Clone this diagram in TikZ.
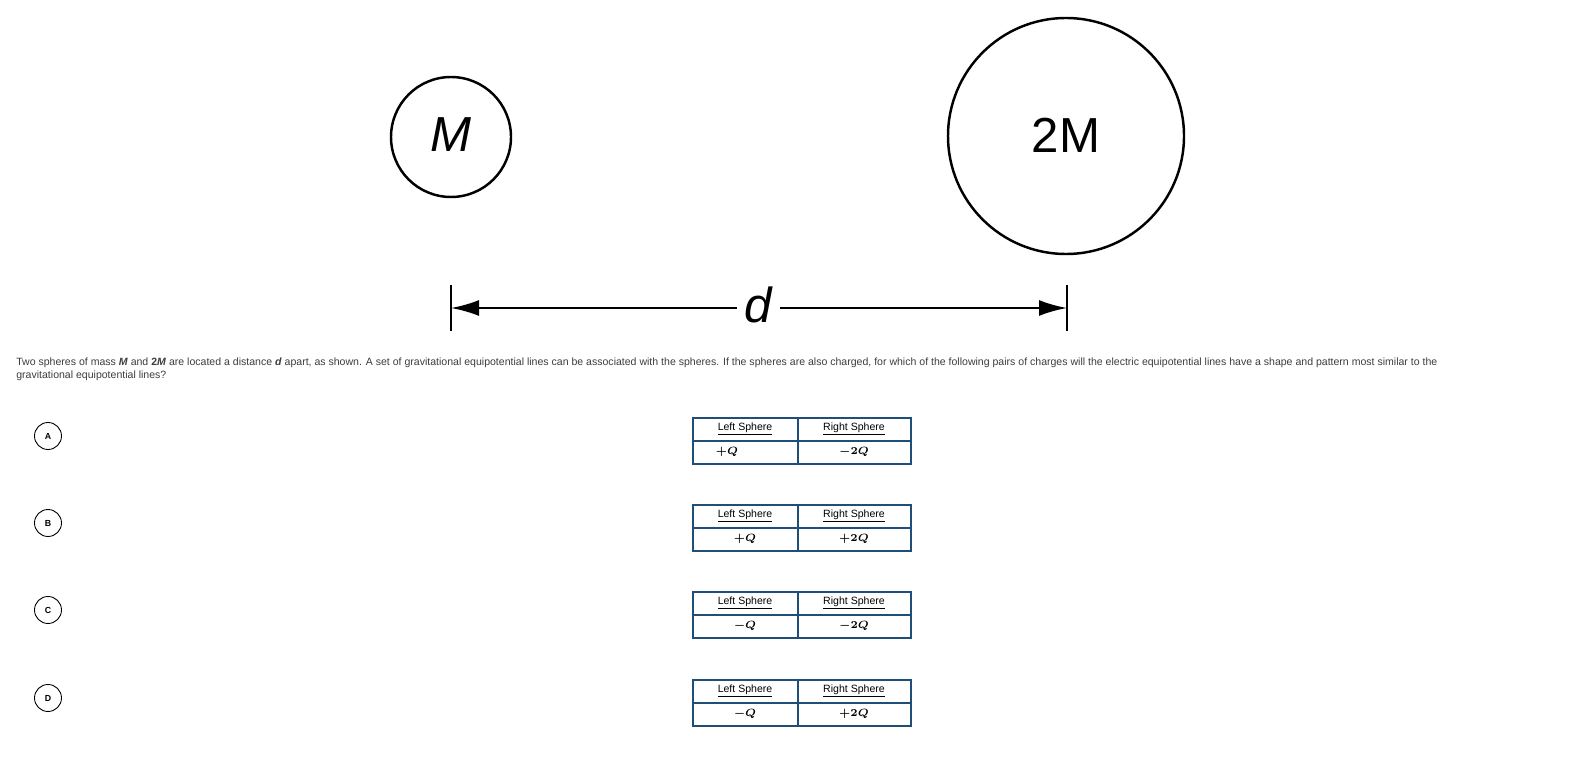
\documentclass[tikz,border=0pt]{standalone}
\usepackage{fontspec}
\usepackage{amsmath}
\setmainfont{Liberation Sans}
\usetikzlibrary{arrows.meta}
\definecolor{tb}{RGB}{31,78,121}
\definecolor{txt}{RGB}{60,60,60}
\begin{document}
\begin{tikzpicture}[x=0.02cm,y=-0.02cm,
 sph/.style={circle,draw,line width=1.4pt,inner sep=0pt},
 opt/.style={circle,draw,line width=0.5pt,inner sep=0pt,minimum size=27*0.02cm,font=\fontsize{5}{6}\selectfont\bfseries},
 cell/.style={draw=tb,line width=0.6pt},
 hd/.style={font=\fontsize{6}{7}\selectfont},
 val/.style={font=\fontsize{6.5}{7}\selectfont\boldmath}]
\useasboundingbox (0,0) rectangle (1569,760);
\node[sph,minimum size=120*0.02cm] (m1) at (451,137) {};
\node[font=\fontsize{28}{30}\selectfont\itshape] (lm1) at (451,135) {M};
\node[sph,minimum size=236*0.02cm] (m2) at (1066,136) {};
\node[font=\fontsize{28}{30}\selectfont] (lm2) at (1066,135) {2M};
\coordinate (a) at (451,308); \coordinate (b) at (1067,308);
\draw[line width=1.2pt] (451,285) -- (451,331) (1067,285) -- (1067,331);
\node[font=\fontsize{28}{30}\selectfont\itshape,inner sep=0pt] (d) at (758,305) {d};
\draw[line width=1.2pt,-{Latex[length=28*0.02cm,width=16*0.02cm]}] (737,308) -- (a);
\draw[line width=1.2pt,-{Latex[length=28*0.02cm,width=16*0.02cm]}] (780,308) -- (b);
\node[anchor=north west,align=left,text=txt,inner sep=0pt,font=\fontsize{6}{7.4}\selectfont] (q) at (16,358) {Two spheres of mass \textbf{\textit{M}} and \textbf{2\textit{M}} are located a distance \textbf{\textit{d}} apart, as shown. A set of gravitational equipotential lines can be associated with the spheres. If the spheres are also charged, for which of the following pairs of charges will the electric equipotential lines have a shape and pattern most similar to the\\ gravitational equipotential lines?};
\foreach \L/\y/\l/\r/\lx in {A/436/{$+Q$}/{$-2Q$}/727, B/523/{$+Q$}/{$+2Q$}/745, C/610/{$-Q$}/{$-2Q$}/745, D/698/{$-Q$}/{$+2Q$}/745}{
 \node[opt] (o\L) at (48,\y) {\L};
 \draw[cell] (693,\y-18) rectangle (911,\y+28);
 \draw[cell] (693,\y+5) -- (911,\y+5) (798,\y-18) -- (798,\y+28);
 \node[hd] (h1\L) at (745,\y-7) {\underline{Left Sphere}};
 \node[hd] (h2\L) at (854,\y-7) {\underline{Right Sphere}};
 \node[val] (v1\L) at (\lx,\y+16) {\l};
 \node[val] (v2\L) at (854,\y+16) {\r};
}
\end{tikzpicture}
\end{document}
